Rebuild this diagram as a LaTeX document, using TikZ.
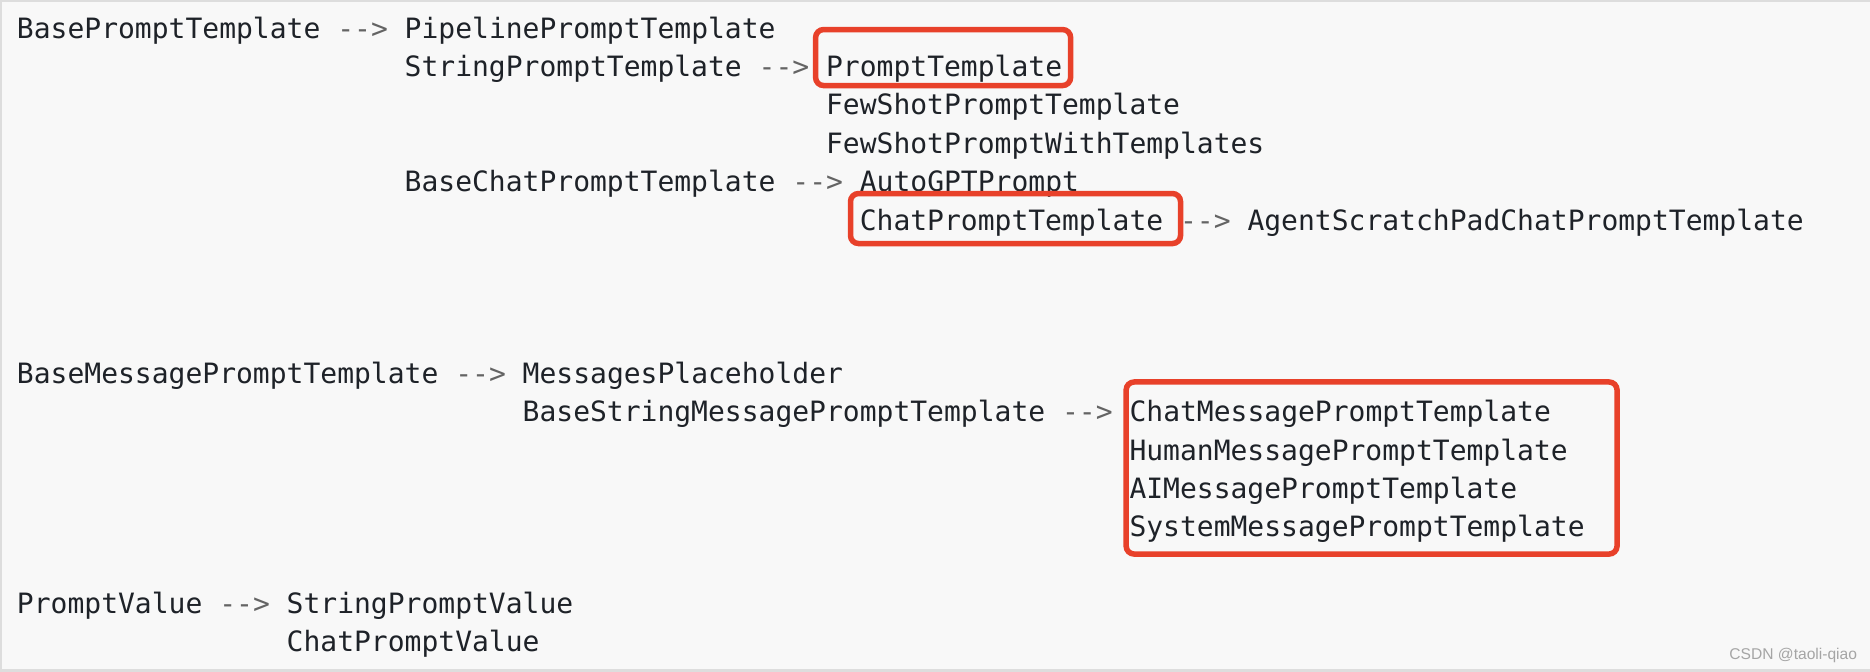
\documentclass[tikz,border=0pt]{standalone}
\usepackage{xcolor}
\usepackage{fontspec}
\setmonofont{DejaVu Sans Mono}
\setsansfont{Liberation Sans}
\usepackage{tikz}
\usetikzlibrary{positioning, calc}
\definecolor{cbBack}{RGB}{248,248,248}
\definecolor{cbRule}{RGB}{221,221,221}
\definecolor{cbText}{RGB}{30,34,40}
\definecolor{cbArrow}{RGB}{100,100,100}
\definecolor{cbRed}{RGB}{232,65,42}
\definecolor{cbMark}{RGB}{165,165,165}
\newcommand{\chw}{8.428pt}

\begin{document}
\begin{tikzpicture}[x=8.428pt, y=-19.175pt,
	cls/.style={inner sep=0pt, outer sep=0pt, anchor=base west, text=cbText, font=\fontsize{14}{19}\selectfont\ttfamily},
	arr/.style={cls, text=cbArrow},
	hl/.style={draw=cbRed, line width=2.75pt, rounded corners=4pt}]
	\useasboundingbox[fill=cbBack] (-8.5pt,19.15pt) rectangle (926.5pt,-316.85pt);
	\draw[cbRule, line width=1.2pt] (-8.5pt,18.55pt) -- (926.5pt,18.55pt);
	\draw[cbRule, line width=1.2pt] (-7.9pt,19.15pt) -- (-7.9pt,-316.85pt);
	\draw[cbRule, line width=1.5pt] (-8.5pt,-316.1pt) -- (926.5pt,-316.1pt);
	\node[cls] (bpt) at (0,0) {BasePromptTemplate};
	\node[arr, base right=\chw of bpt] (a1) {-{}->};
	\node[cls, base right=\chw of a1] (ppt) {PipelinePromptTemplate};
	\node[cls] (spt) at (23,1) {StringPromptTemplate};
	\node[arr, base right=\chw of spt] (a2) {-{}->};
	\node[cls, base right=\chw of a2] (pt) {PromptTemplate};
	\node[cls] (fspt) at (48,2) {FewShotPromptTemplate};
	\node[cls] (fspwt) at (48,3) {FewShotPromptWithTemplates};
	\node[cls] (bcpt) at (23,4) {BaseChatPromptTemplate};
	\node[arr, base right=\chw of bcpt] (a3) {-{}->};
	\node[cls, base right=\chw of a3] (agp) {AutoGPTPrompt};
	\node[cls] (cpt) at (50,5) {ChatPromptTemplate};
	\node[arr, base right=\chw of cpt] (a4) {-{}->};
	\node[cls, base right=\chw of a4] (ascpt) {AgentScratchPadChatPromptTemplate};
	\node[cls] (bmpt) at (0,9) {BaseMessagePromptTemplate};
	\node[arr, base right=\chw of bmpt] (a5) {-{}->};
	\node[cls, base right=\chw of a5] (mph) {MessagesPlaceholder};
	\node[cls] (bsmpt) at (30,10) {BaseStringMessagePromptTemplate};
	\node[arr, base right=\chw of bsmpt] (a6) {-{}->};
	\node[cls, base right=\chw of a6] (cmpt) {ChatMessagePromptTemplate};
	\node[cls] (hmpt) at (66,11) {HumanMessagePromptTemplate};
	\node[cls] (aimpt) at (66,12) {AIMessagePromptTemplate};
	\node[cls] (smpt) at (66,13) {SystemMessagePromptTemplate};
	\node[cls] (pv) at (0,15) {PromptValue};
	\node[arr, base right=\chw of pv] (a7) {-{}->};
	\node[cls, base right=\chw of a7] (spv) {StringPromptValue};
	\node[cls] (cpv) at (16,16) {ChatPromptValue};
	\draw[hl] ($(pt.base west)+(-5.25pt,23.55pt)$) rectangle ($(pt.base east)+(4.25pt,-4.45pt)$);
	\draw[hl] ($(cpt.base west)+(-4.65pt,18.25pt)$) rectangle ($(cpt.base east)+(8.65pt,-6.75pt)$);
	\draw[hl] ($(cmpt.base west)+(-1.7pt,19.9pt)$) rectangle ($(smpt.base east)+(16.2pt,-8.6pt)$);
	\node[inner sep=0pt, anchor=base west, text=cbMark, font=\fontsize{7.8}{9}\selectfont\sffamily] (mark) at (856pt,-310.85pt) {CSDN @taoli-qiao};
\end{tikzpicture}
\end{document}
